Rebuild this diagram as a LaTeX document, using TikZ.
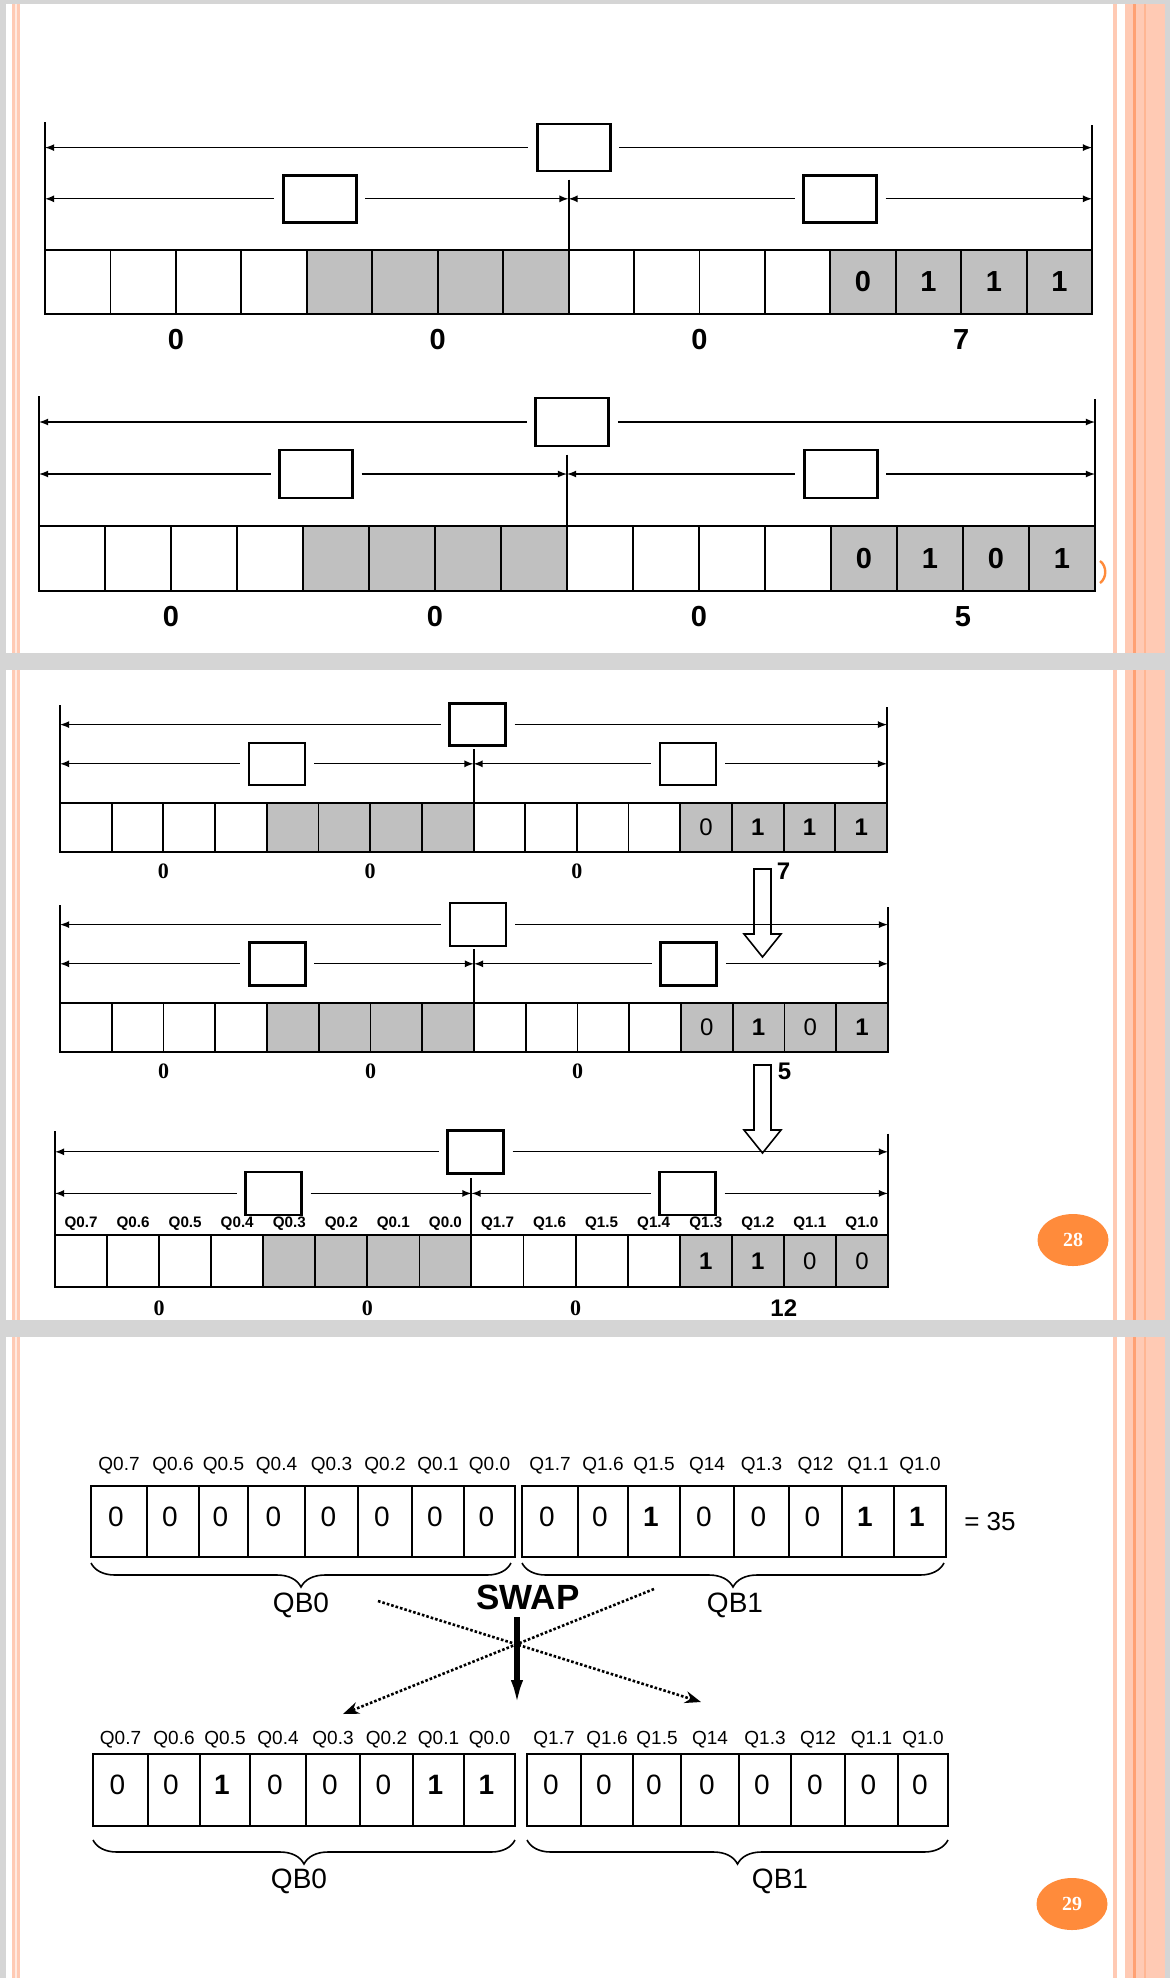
\documentclass[tikz,border=0pt]{standalone}
\usepackage{fontspec}
\setmainfont{Liberation Serif}
\setsansfont{Liberation Sans}
\usepackage{xcolor}
\usepackage{tikz}
\usetikzlibrary{arrows}
\usetikzlibrary{arrows.meta}
\usetikzlibrary{shapes.geometric}
\usetikzlibrary{decorations.pathreplacing}

\definecolor{slidegray}{HTML}{D5D5D5}
\definecolor{peach}{HTML}{FFCAB4}
\definecolor{peachdark}{HTML}{FFA173}
\definecolor{nibgray}{HTML}{C0C0C0}
\definecolor{badge}{HTML}{FF8B3B}

\tikzset{
  regline/.style = {line width = 1.3pt},
  cellline/.style = {line width = 0.9pt},
  tick/.style = {line width = 1pt},
  dimline/.style = {line width = 0.6pt},
  valbox/.style = {draw, line width = 1.3pt, fill = white, inner sep = 0pt, outer sep = 4.5pt},
  bitdigit/.style = {font = \fontsize{14.5}{14.5}\selectfont\sffamily\bfseries},
  grouplabel/.style = {font = \fontsize{14.5}{14.5}\selectfont\sffamily\bfseries},
  qlabel/.style = {font = \fontsize{9.5}{9.5}\selectfont\sffamily},
  swapdigit/.style = {font = \fontsize{14}{14}\selectfont\sffamily},
  bytename/.style = {font = \fontsize{14}{14}\selectfont\sffamily},
  bytebrace/.style = {decorate, decoration = {brace, mirror, amplitude = 12pt}, line width = 0.8pt},
  pagebadge/.style = {ellipse, fill = badge, text = white, minimum width = 35.5pt, minimum height = 26pt, inner sep = 0pt, font = \fontsize{10}{10}\selectfont\rmfamily\bfseries}
}

% 16 bit word: 4 nibbles, bytes and word marked by arrows round empty boxes
% #1 name, #2 left x, #3 cell width, #4 top y, #5 cell height,
% #6/#7 box width/height, #8 last nibble, #9 its value
\newcommand{\nibreg}[9]{%
  \fill[nibgray] ({#2+4*#3}, #4) rectangle ({#2+8*#3}, {#4+#5});
  \fill[nibgray] ({#2+12*#3}, #4) rectangle ({#2+16*#3}, {#4+#5});
  \foreach \cell in {1, ..., 15}
    \draw[cellline] ({#2+\cell*#3}, #4) -- ({#2+\cell*#3}, {#4+#5});
  \draw[regline] (#2, #4) rectangle ({#2+16*#3}, {#4+#5});
  % word / byte marks
  \draw[tick] (#2, {#4-2*#5}) -- (#2, {#4+#5});
  \draw[tick] ({#2+8*#3}, {#4-1.1*#5}) -- ({#2+8*#3}, {#4+#5});
  \draw[tick] ({#2+16*#3}, {#4-1.95*#5}) -- ({#2+16*#3}, {#4+#5});
  \coordinate (#1wl) at (#2, {#4-1.6*#5});
  \coordinate (#1wr) at ({#2+16*#3}, {#4-1.6*#5});
  \coordinate (#1bl) at (#2, {#4-0.8*#5});
  \coordinate (#1bm) at ({#2+8*#3}, {#4-0.8*#5});
  \coordinate (#1br) at ({#2+16*#3}, {#4-0.8*#5});
  \node[valbox, minimum width = #6*0.5pt, minimum height = #7*0.5pt] (#1word) at ({#2+8.08*#3}, {#4-1.6*#5}) {};
  \node[valbox, minimum width = #6*0.5pt, minimum height = #7*0.5pt] (#1hi) at ({#2+4.2*#3}, {#4-0.8*#5}) {};
  \node[valbox, minimum width = #6*0.5pt, minimum height = #7*0.5pt] (#1lo) at ({#2+12.15*#3}, {#4-0.8*#5}) {};
  \draw[dimline, <-] (#1wl) -- (#1word);
  \draw[dimline, ->] (#1word) -- (#1wr);
  \draw[dimline, <-] (#1bl) -- (#1hi);
  \draw[dimline, ->] (#1hi) -- (#1bm);
  \draw[dimline, <-] (#1bm) -- (#1lo);
  \draw[dimline, ->] (#1lo) -- (#1br);
  % bits and nibble values
  \foreach \bit [count = \cell from 12] in {#8}
    \node[bitdigit] (#1b\cell) at ({#2+(\cell+0.5)*#3}, {#4+0.5*#5}) {\bit};
  \foreach \val [count = \grp from 0] in {0, 0, 0, #9}
    \node[grouplabel] (#1g\grp) at ({#2+(4*\grp+2)*#3}, {#4+1.4*#5}) {\val};
}

\begin{document}
\begin{tikzpicture}[x = 0.5pt, y = -0.5pt, >=latex]
\useasboundingbox (0, 0) rectangle (1170, 1978);

% screen and slides
\fill[slidegray] (0, 0) rectangle (1170, 1978);
\foreach \ya/\yb in {4/653, 670/1320, 1337/1978} {
  \fill[white] (6, \ya) rectangle (1165, \yb);
  \fill[peach] (12, \ya) rectangle (20, \yb);
  \fill[peach!40] (15, \ya) rectangle (17, \yb);
  \fill[peach] (1113, \ya) rectangle (1117, \yb);
  \fill[peach] (1125, \ya) rectangle (1165, \yb);
  \fill[peachdark] (1133, \ya) rectangle (1136, \yb);
  \fill[peachdark!50!peach] (1144, \ya) rectangle (1146, \yb);
}

% slide 1
\nibreg{a}{45}{65.44}{250}{64}{73}{47}{0, 1, 1, 1}{7}
\nibreg{b}{39}{66}{526}{65}{73}{48}{0, 1, 0, 1}{5}
\draw[badge, line width = 1.2pt] (1100, 561) .. controls (1107, 566) and (1107, 578) .. (1100, 583);

% slide 2
\tikzset{bitdigit/.style = {font = \fontsize{12}{12}\selectfont\sffamily},
  grouplabel/.style = {font = \fontsize{11}{11}\selectfont\rmfamily\bfseries}}
\foreach \y in {869, 1065}
  \draw[line width = 0.8pt, fill = white] (754, \y) -- (771, \y) -- (771, {\y+65}) -- (781, {\y+65}) -- (762.5, {\y+88}) -- (744, {\y+65}) -- (754, {\y+65}) -- cycle;
\nibreg{c}{60}{51.69}{803}{49}{56}{42}{0, \textbf{1}, \textbf{1}, \textbf{1}}{{\sffamily\fontsize{12}{12}\selectfont 7}}
\nibreg{d}{60}{51.75}{1003}{49}{56}{43}{0, \textbf{1}, 0, \textbf{1}}{{\sffamily\fontsize{12}{12}\selectfont 5}}
\nibreg{e}{55}{52.06}{1235}{52}{56}{43}{\textbf{1}, \textbf{1}, 0, 0}{{\sffamily\fontsize{12}{12}\selectfont 12}}
\foreach \qn [count = \cell from 0] in {Q0.7, Q0.6, Q0.5, Q0.4, Q0.3, Q0.2, Q0.1, Q0.0, Q1.7, Q1.6, Q1.5, Q1.4, Q1.3, Q1.2, Q1.1, Q1.0}
  \node[qlabel, font = \fontsize{7.6}{7.6}\selectfont\sffamily\bfseries] (eq\cell) at ({55+(\cell+0.5)*52.06}, 1224) {\qn};
\node[pagebadge] (p28) at (1073, 1240) {28};

% slide 3: before swap
\foreach \xa/\xb/\dg/\qn [count = \cell] in {91/147/0/Q0.7, 147/199/0/Q0.6, 199/248/0/Q0.5, 248/305/0/Q0.4, 305/358/0/Q0.3, 358/412/0/Q0.2, 412/464/0/Q0.1, 464/515/0/Q0.0,
  522/578/0/Q1.7, 578/628/0/Q1.6, 628/680/\textbf{1}/Q1.5, 680/734/0/Q14, 734/789/0/Q1.3, 789/842/0/Q12, 842/894/\textbf{1}/Q1.1, 894/946/\textbf{1}/Q1.0} {
  \draw[cellline] (\xb, 1486) -- (\xb, 1557);
  \node[swapdigit] (s\cell) at ({(\xa+\xb)/2-3}, 1517) {\dg};
  \node[qlabel] (sq\cell) at ({(\xa+\xb)/2}, 1466) {\qn};
}
\draw[regline] (91, 1486) rectangle (515, 1557);
\draw[regline] (522, 1486) rectangle (946, 1557);
\node[swapdigit, font = \fontsize{13}{13}\selectfont\sffamily] (sum) at (990, 1522) {= 35};
\draw[bytebrace] (91, 1563) -- (511, 1563);
\draw[bytebrace] (522, 1563) -- (944, 1563);
\node[bytename] (qb0) at (301, 1605) {QB0};
\node[bytename] (qb1) at (735, 1605) {QB1};

% swap
\node[font = \fontsize{17.5}{17.5}\selectfont\sffamily\bfseries] (swap) at (528, 1597) {SWAP};
\coordinate (swaptop) at (517, 1617);
\coordinate (swapbot) at (517, 1708);
\draw[line width = 2.6pt, -{Latex[length = 14pt, width = 6pt]}] (swaptop) -- (swapbot);
\coordinate (hiA) at (378, 1601);
\coordinate (hiB) at (701, 1702);
\coordinate (loA) at (654, 1589);
\coordinate (loB) at (343, 1714);
\draw[densely dotted, line width = 1.3pt, -{Stealth[length = 8pt, width = 6pt]}] (hiA) -- (hiB);
\draw[densely dotted, line width = 1.3pt, -{Stealth[length = 8pt, width = 6pt]}] (loA) -- (loB);

% after swap
\foreach \xa/\xb/\dg/\qn [count = \cell] in {93/148/0/Q0.7, 148/200/0/Q0.6, 200/250/\textbf{1}/Q0.5, 250/306/0/Q0.4, 306/360/0/Q0.3, 360/413/0/Q0.2, 413/464/\textbf{1}/Q0.1, 464/515/\textbf{1}/Q0.0,
  527/581/0/Q1.7, 581/633/0/Q1.6, 633/681/0/Q1.5, 681/739/0/Q14, 739/791/0/Q1.3, 791/845/0/Q12, 845/898/0/Q1.1, 898/948/0/Q1.0} {
  \draw[cellline] (\xb, 1754) -- (\xb, 1826);
  \node[swapdigit] (t\cell) at ({(\xa+\xb)/2-3}, 1785) {\dg};
  \node[qlabel] (tq\cell) at ({(\xa+\xb)/2}, 1740) {\qn};
}
\draw[regline] (93, 1754) rectangle (515, 1826);
\draw[regline] (527, 1754) rectangle (948, 1826);
\draw[bytebrace] (93, 1840) -- (515, 1840);
\draw[bytebrace] (527, 1840) -- (948, 1840);
\node[bytename] (qb0b) at (299, 1881) {QB0};
\node[bytename] (qb1b) at (780, 1881) {QB1};
\node[pagebadge] (p29) at (1072, 1904) {29};
\end{tikzpicture}
\end{document}
